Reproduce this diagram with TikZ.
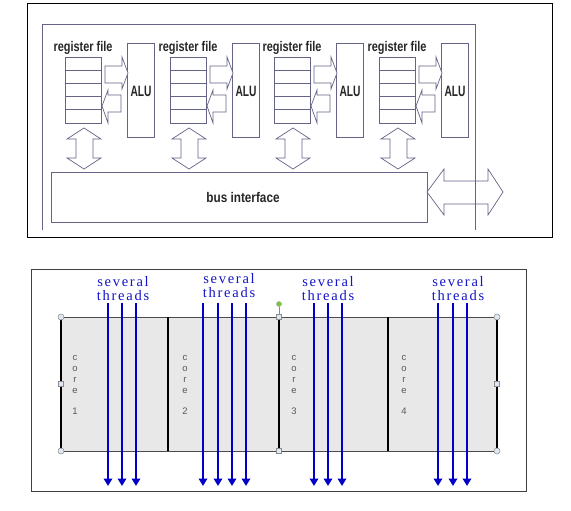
\documentclass[tikz,border=0pt]{standalone}
\usepackage{fontspec}
\setmainfont{Liberation Serif}
\setsansfont{Liberation Sans}
\newfontfamily\thrfont[LetterSpace=12]{Liberation Serif}
\usetikzlibrary{arrows.meta}
\definecolor{lineg}{RGB}{100,100,135}
\definecolor{thrblue}{RGB}{20,20,200}
\definecolor{arrblue}{RGB}{0,0,200}
\definecolor{coregray}{RGB}{232,232,232}
\definecolor{handlefill}{RGB}{222,232,242}
\definecolor{handlegreen}{RGB}{120,200,60}
\begin{document}
\begin{tikzpicture}[x=1pt,y=-1pt,
  boxst/.style={draw=lineg, line width=0.7pt, fill=white},
  hollow/.style={draw=lineg, line width=0.7pt, fill=white, line join=miter},
  regtext/.style={font=\sffamily\bfseries\fontsize{14}{14}\selectfont, text=black!85, inner sep=0pt},
  alutext/.style={font=\sffamily\bfseries\fontsize{15}{15}\selectfont, text=black!85, inner sep=0pt},
  thrtext/.style={font=\thrfont\fontsize{14.5}{14}\selectfont, text=thrblue, inner sep=0pt, align=center},
  thread/.style={draw=arrblue, line width=1.8pt, -{Triangle[length=7.5pt,width=8.5pt]}},
  coretext/.style={font=\sffamily\fontsize{9.5}{11}\selectfont, text=black!65, inner sep=0pt, align=center},
  divider/.style={draw=black, line width=1.2pt},
  circhandle/.style={circle, draw=black!45, fill=handlefill, line width=0.5pt, minimum size=6pt, inner sep=0pt},
  sqhandle/.style={rectangle, draw=black!45, fill=handlefill, line width=0.5pt, minimum size=5pt, inner sep=0pt}
]
\useasboundingbox (0,0) rectangle (571,511);
\fill[white] (0,0) rectangle (571,511);

%% ===== top figure =====
\draw[black, line width=0.8pt] (27,3) rectangle (552,237);
% inner frame lines
\draw[lineg, line width=0.6pt] (42,230) -- (42,24) -- (475,24) -- (475,230);

% bus interface
\node[boxst, minimum width=376pt, minimum height=50pt, anchor=north west, inner sep=0pt] (bus) at (51,172) {};
\node[regtext, anchor=base] (bustext) at (243,202) {\scalebox{0.84}[1]{bus interface}};

% big horizontal double arrow
\draw[hollow] (427,192) -- (444,169) -- (444,181) -- (488,181) -- (488,169) -- (503,192)
  -- (488,215) -- (488,204) -- (444,204) -- (444,215) -- cycle;
\draw[lineg, line width=0.6pt] (475,24) -- (475,230);

\foreach \o/\i in {0/1,105/2,209/3,314/4}{
  \begin{scope}[xshift=\o pt]
    \node[regtext, anchor=base] (rl\i) at (83,52) {\scalebox{0.78}[1]{register file}};
    \node[boxst, anchor=north west, minimum width=36pt, minimum height=66pt, inner sep=0pt] (reg\i) at (65,57) {};
    \foreach \yy in {70.2,83.4,96.6,109.8}{
      \draw[lineg, line width=0.7pt] (reg\i.west |- 0,\yy) -- (reg\i.east |- 0,\yy);
    }
    \node[boxst, anchor=north west, minimum width=27pt, minimum height=94pt, inner sep=0pt] (alu\i) at (127,43) {};
    \node[alutext, anchor=base] (alut\i) at (141,97) {\scalebox{0.68}[1]{ALU}};
    % arrow register -> ALU
    \draw[hollow] (105,66) -- (122,66) -- (122,57) -- (128,73) -- (122,89) -- (122,83) -- (105,83) -- cycle;
    % arrow ALU -> register
    \draw[hollow] (121,95) -- (108,95) -- (108,90) -- (102,106) -- (108,123) -- (108,112) -- (121,112) -- cycle;
    % vertical double arrow to bus
    \draw[hollow] (84,128) -- (101,139) -- (93,139) -- (93,158) -- (101,158) -- (84,169)
      -- (67,158) -- (76,158) -- (76,139) -- (67,139) -- cycle;
  \end{scope}
}

%% ===== bottom figure =====
\draw[black!75, line width=0.8pt] (31,269) rectangle (526,491);
\fill[coregray] (61,317) rectangle (497,451);
\draw[black!70, line width=0.5pt] (61,317) -- (497,317) (61,451) -- (497,451);
\draw[divider] (61,317) -- (61,451);
\draw[divider] (168,317) -- (168,451);
\draw[divider] (279,317) -- (279,451);
\draw[divider] (388,317) -- (388,451);
\draw[divider] (497,317) -- (497,451);

\node[coretext] (c1) at (75,385) {c\\o\\r\\e\\[10pt]1};
\node[coretext] (c2) at (185,385) {c\\o\\r\\e\\[10pt]2};
\node[coretext] (c3) at (294,385) {c\\o\\r\\e\\[10pt]3};
\node[coretext] (c4) at (404,385) {c\\o\\r\\e\\[10pt]4};

% thread labels
\node[thrtext] (t1) at (123,289) {several\\threads};
\node[thrtext] (t2) at (229,286) {several\\threads};
\node[thrtext] (t3) at (328,289) {several\\threads};
\node[thrtext] (t4) at (458,289) {several\\threads};

% thread arrows
\foreach \xx/\n in {108/a,122/b,136/c,203/d,218/e,232/f,246/g,314/h,328/i,342/j,438/k,453/l,467/m}{
  \coordinate (s\n) at (\xx,303);
  \coordinate (e\n) at (\xx,486);
  \draw[thread] (s\n) -- (e\n);
}

% selection handles
\node[circle, draw=black!40, fill=handlegreen, minimum size=5pt, inner sep=0pt] (rot) at (279,304) {};
\node[sqhandle] (hmt) at (279,317) {};
\draw[black!45, line width=0.5pt] (rot) -- (hmt);
\node[sqhandle] (hmb) at (279,451) {};
\node[circhandle] (htl) at (61,317) {};
\node[circhandle] (hbl) at (61,451) {};
\node[circhandle] (htr) at (497,317) {};
\node[circhandle] (hbr) at (497,451) {};
\node[sqhandle] (hml) at (61,384) {};
\node[sqhandle] (hmr) at (497,384) {};
\end{tikzpicture}
\end{document}
